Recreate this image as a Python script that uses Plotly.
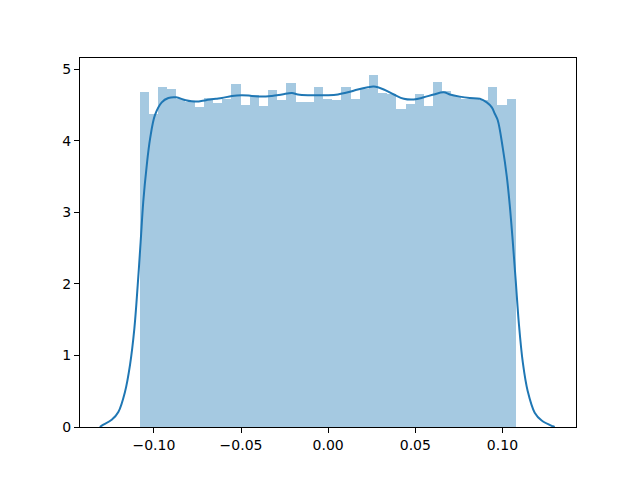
import plotly.graph_objects as go

# histogram (density)
bin_start = -0.1082
bin_width = 0.005263
bar_heights = [4.69, 4.38, 4.75, 4.73, 4.59, 4.54, 4.47, 4.60, 4.53, 4.59,
               4.79, 4.50, 4.64, 4.49, 4.71, 4.57, 4.81, 4.54, 4.54, 4.75,
               4.58, 4.57, 4.76, 4.59, 4.72, 4.92, 4.67, 4.65, 4.45, 4.52,
               4.66, 4.49, 4.83, 4.70, 4.63, 4.59, 4.58, 4.57, 4.75, 4.50,
               4.59]

# kde curve, points
kde_x = [-0.1310, -0.1299, -0.1242, -0.1204, -0.1166, -0.1137, -0.1112, -0.1093,
         -0.1076, -0.1061, -0.1041, -0.1022, -0.0994, -0.0955, -0.0917, -0.0873,
         -0.0817, -0.0759, -0.0701, -0.0644, -0.0610, -0.0552, -0.0495, -0.0438,
         -0.0380, -0.0323, -0.0265, -0.0208, -0.0174, -0.0116, -0.0059, 0.0,
         0.0056, 0.0113, 0.0170, 0.0228, 0.0262, 0.0319, 0.0377, 0.0434,
         0.0491, 0.0549, 0.0606, 0.0663, 0.0698, 0.0755, 0.0812, 0.0870,
         0.0910, 0.0939, 0.0956, 0.0973, 0.1002, 0.1025, 0.1042, 0.1059,
         0.1076, 0.1094, 0.1117, 0.1145, 0.1185, 0.1225, 0.1288, 0.1300]
kde_y = [0.0, 0.02, 0.10, 0.21, 0.49, 0.87, 1.38, 1.98,
         2.59, 3.15, 3.66, 4.03, 4.36, 4.54, 4.60, 4.61,
         4.57, 4.55, 4.57, 4.59, 4.60, 4.63, 4.64, 4.63,
         4.62, 4.63, 4.65, 4.67, 4.65, 4.64, 4.64, 4.64,
         4.65, 4.68, 4.72, 4.75, 4.76, 4.72, 4.65, 4.59,
         4.58, 4.61, 4.65, 4.68, 4.65, 4.62, 4.60, 4.59,
         4.54, 4.47, 4.38, 4.29, 3.90, 3.50, 3.10, 2.60,
         2.05, 1.45, 0.90, 0.50, 0.20, 0.09, 0.01, 0.0]

x_ticks = [-0.10, -0.05, 0.0, 0.05, 0.10]
x_labels = ["−0.10", "−0.05", "0.00", "0.05", "0.10"]
y_ticks = [0, 1, 2, 3, 4, 5]

fig = go.Figure()
fig.add_trace(go.Bar(x0=bin_start + bin_width / 2, dx=bin_width, y=bar_heights,
                     width=bin_width, marker=dict(color="rgba(31,119,180,0.4)", line=dict(width=0)),
                     showlegend=False))
fig.add_trace(go.Scatter(x=kde_x, y=kde_y, mode="lines", line=dict(color="#1f77b4", width=2, shape="spline"),
                         showlegend=False))

axis_style = dict(showline=True, linecolor="black", linewidth=1, mirror=True, ticks="outside",
                  ticklen=5, tickcolor="black", showgrid=False, zeroline=False,
                  tickfont=dict(family="DejaVu Sans", size=14, color="black"))
fig.update_xaxes(range=[-0.1424, 0.1422], tickvals=x_ticks, ticktext=x_labels, **axis_style)
fig.update_yaxes(range=[0, 5.16], tickvals=y_ticks, **axis_style)
# page body has an 8px margin, so the figure is 8px smaller and shifted
fig.update_layout(width=632, height=472, bargap=0, plot_bgcolor="white", paper_bgcolor="white",
                  margin=dict(l=72, r=64, t=50, b=53))
fig.write_html("out.html")
